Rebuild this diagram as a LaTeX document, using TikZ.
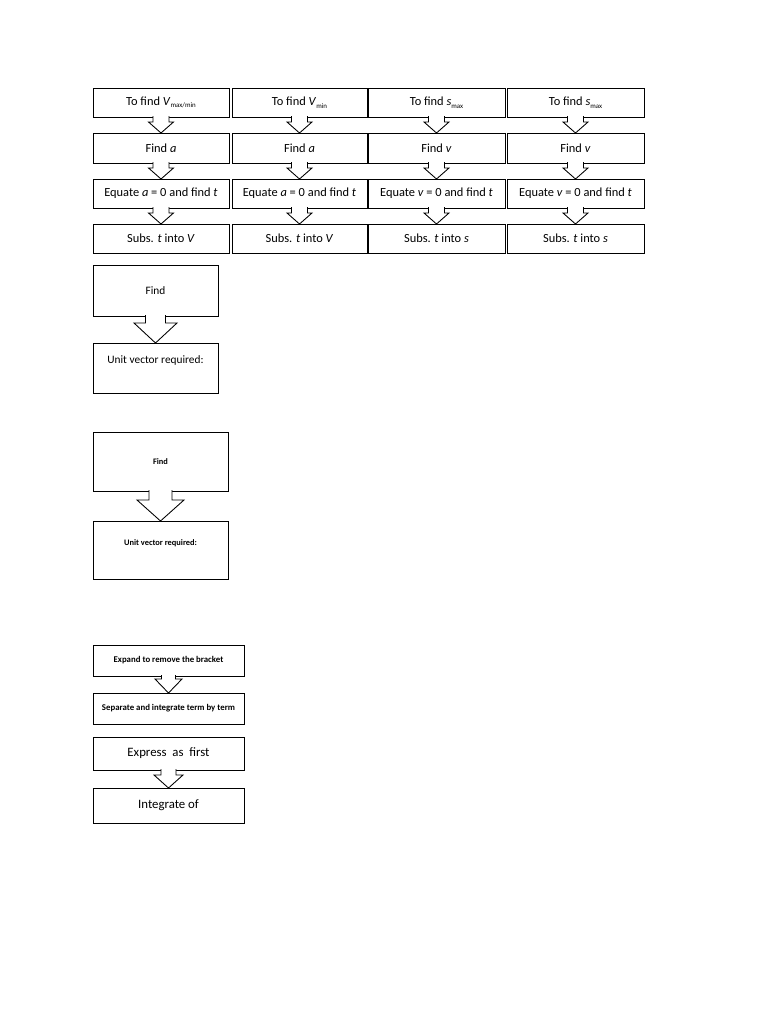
\documentclass[tikz,border=0pt]{standalone}
\usepackage{fontspec}
\setmainfont{Carlito}
\usetikzlibrary{calc}
\tikzset{
  box/.style={draw, line width=0.65pt, inner sep=0pt, outer sep=0pt, rectangle, align=center},
  barr/.style={draw, line width=0.65pt, line join=miter},
  barrf/.style={barr, fill=white},
}
\newcommand{\gridfont}{\fontsize{9.3}{11}\selectfont}
\newcommand{\sbs}[1]{\raisebox{-0.45ex}{\fontsize{5.2}{6}\selectfont #1}}
\newcommand{\gonefont}{\fontsize{8.5}{10}\selectfont}
\newcommand{\gtwofont}{\fontsize{6.3}{7.5}\selectfont\bfseries}
\newcommand{\gthreefont}{\fontsize{6.6}{8}\selectfont\bfseries}
\newcommand{\bigfont}{\fontsize{9.6}{11}\selectfont}
\newcommand{\bx}[6]{\node[box, minimum width={(#4-#2)*0.75pt}, minimum height={(#5-#3)*0.75pt}, #6] (#1) at ({(#2+#4)/2},{(#3+#5)/2})}
\newcommand{\barrow}[6]{%
  \draw[#6] ($(#1.south)+(-#3,-1)$) -- ($(#1.south)+(-#3,#5)$) -- ($(#1.south)+(-#4,#5)$)
    -- (#1.south |- #2.north) -- ($(#1.south)+(#4,#5)$) -- ($(#1.south)+(#3,#5)$) -- ($(#1.south)+(#3,-1)$);}
\begin{document}
\begin{tikzpicture}[x=0.75pt, y=-0.75pt]
\useasboundingbox (0,0) rectangle (768,1024);
% grid
\bx{a1}{93}{88}{229}{117}{font=\gridfont}{To find \textit{V}\sbs{max/min}};
\bx{b1}{232}{88}{367}{117}{font=\gridfont}{To find \textit{V}\sbs{min}};
\bx{c1}{368}{88}{505}{117}{font=\gridfont}{To find \textit{s}\sbs{max}};
\bx{d1}{507}{88}{644}{117}{font=\gridfont}{To find \textit{s}\sbs{max}};
\bx{a2}{93}{133}{229}{163}{font=\gridfont}{Find \textit{a}};
\bx{b2}{232}{133}{367}{163}{font=\gridfont}{Find \textit{a}};
\bx{c2}{368}{133}{505}{163}{font=\gridfont}{Find \textit{v}};
\bx{d2}{507}{133}{644}{163}{font=\gridfont}{Find \textit{v}};
\bx{a3}{93}{179}{229}{208}{font=\gridfont}{Equate \textit{a} = 0 and find \textit{t}};
\bx{b3}{232}{179}{367}{208}{font=\gridfont}{Equate \textit{a} = 0 and find \textit{t}};
\bx{c3}{368}{179}{505}{208}{font=\gridfont}{Equate \textit{v} = 0 and find \textit{t}};
\bx{d3}{507}{179}{644}{208}{font=\gridfont}{Equate \textit{v} = 0 and find \textit{t}};
\bx{a4}{93}{224}{229}{253}{font=\gridfont}{Subs. \textit{t} into \textit{V}};
\bx{b4}{232}{224}{367}{253}{font=\gridfont}{Subs. \textit{t} into \textit{V}};
\bx{c4}{368}{224}{505}{253}{font=\gridfont}{Subs. \textit{t} into \textit{s}};
\bx{d4}{507}{224}{644}{253}{font=\gridfont}{Subs. \textit{t} into \textit{s}};
\foreach \c in {a,b,c,d}{
  \barrow{\c1}{\c2}{8}{12.5}{5}{barrf}
  \barrow{\c2}{\c3}{8}{12.5}{5}{barrf}
  \barrow{\c3}{\c4}{8}{12.5}{5}{barrf}
}
% group 1
\bx{e1}{93}{265}{218}{316}{font=\gonefont}{Find};
\bx{e2}{93}{343}{218}{393}{}{};
\node[font=\gonefont, inner sep=0pt] (e2t) at (155.5,360) {Unit vector required:};
\barrow{e1}{e2}{10}{21.5}{7}{barrf}
% group 2
\bx{f1}{93}{432}{228}{491}{font=\gtwofont}{Find};
\bx{f2}{93}{521}{228}{579}{}{};
\node[font=\gtwofont, inner sep=0pt] (f2t) at (160.5,543) {Unit vector required:};
\barrow{f1}{f2}{11.5}{23.5}{9}{barrf}
% group 3
\bx{g1}{93}{645}{244}{676}{font=\gthreefont}{Expand to remove the bracket};
\bx{g2}{93}{693}{244}{724}{font=\gthreefont}{Separate and integrate term by term};
\bx{g3}{93}{737}{244}{770}{font=\bigfont}{Express\ \ as\ \ first};
\bx{g4}{93}{788}{244}{823}{font=\bigfont}{Integrate of};
\barrow{g1}{g2}{7}{13.5}{3}{barrf}
\barrow{g3}{g4}{7.5}{14.5}{5}{barrf}
\end{tikzpicture}
\end{document}
